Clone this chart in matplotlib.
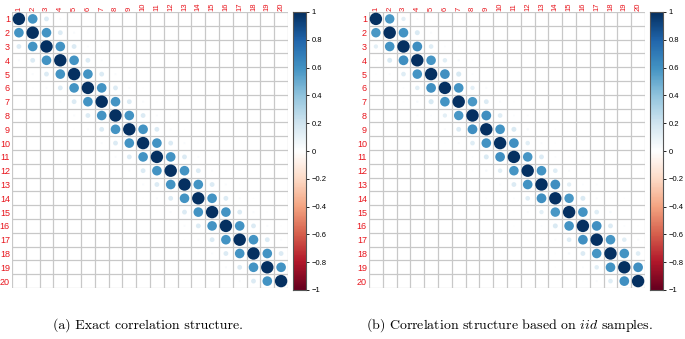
import numpy as np
import matplotlib
matplotlib.use("Agg")
import matplotlib.pyplot as plt
from matplotlib.colors import LinearSegmentedColormap
from matplotlib.patches import Circle

plt.rcParams["mathtext.fontset"] = "cm"

n_vars = 20
labels = [str(i) for i in range(1, n_vars + 1)]

# exact structure: value on each off-diagonal band (same along the band)
exact_bands = [1.0, 0.6, 0.15, 0.03, 0.008]

# sampled structure: values read along each band (row i, col i+k)
iid_band1 = [0.58, 0.60, 0.62, 0.59, 0.61, 0.60, 0.58, 0.62, 0.60, 0.61,
             0.59, 0.60, 0.62, 0.58, 0.60, 0.61, 0.59, 0.60, 0.61]
iid_band2 = [0.12, 0.16, 0.14, 0.13, 0.17, 0.12, 0.15, 0.14, 0.16, 0.13,
             0.15, 0.14, 0.12, 0.16, 0.14, 0.15, 0.13, 0.14]
iid_band3 = [0.02, 0.03, 0.02, 0.04, 0.02, 0.03, 0.03, 0.02, 0.04, 0.03,
             0.02, 0.03, 0.02, 0.03, 0.04, 0.02, 0.03]
iid_band4 = [0.01, 0.00, 0.01, 0.02, 0.00, 0.01, 0.01, 0.02, 0.00, 0.01,
             0.01, 0.00, 0.02, 0.01, 0.00, 0.01]
iid_band5 = [0.00, 0.01, 0.00, 0.01, 0.01, 0.00, 0.01, 0.00, 0.01, 0.00,
             0.01, 0.01, 0.00, 0.01, 0.00]

cbar_ticks = [-1, -0.8, -0.6, -0.4, -0.2, 0, 0.2, 0.4, 0.6, 0.8, 1]
captions = ["(a) Exact correlation structure.",
            "(b) Correlation structure based on $iid$ samples."]

rdbu = ["#67001F", "#B2182B", "#D6604D", "#F4A582", "#FDDBC7", "#FFFFFF",
        "#D1E5F0", "#92C5DE", "#4393C3", "#2166AC", "#053061"]
cmap = LinearSegmentedColormap.from_list("corr", rdbu)


def band_matrix(bands):
    m = np.zeros((n_vars, n_vars))
    for k, vals in enumerate(bands):
        if np.isscalar(vals):
            vals = [vals] * (n_vars - k)
        for i, v in enumerate(vals):
            m[i, i + k] = v
            m[i + k, i] = v
    return m


exact = band_matrix(exact_bands)
sampled = band_matrix([1.0, iid_band1, iid_band2, iid_band3, iid_band4, iid_band5])

W, H = 685, 339
fig = plt.figure(figsize=(W / 100, H / 100), dpi=100)


def px_axes(x0, y0, x1, y1):
    return fig.add_axes([x0 / W, 1 - y1 / H, (x1 - x0) / W, (y1 - y0) / H])


def corrplot(mat, gx):
    ax = px_axes(gx, 12, gx + 276, 288)
    ax.set_xlim(0.5, n_vars + 0.5)
    ax.set_ylim(n_vars + 0.5, 0.5)
    for p in np.arange(0.5, n_vars + 1):
        ax.axhline(p, color="#c8c8c8", lw=0.9, zorder=1)
        ax.axvline(p, color="#c8c8c8", lw=0.9, zorder=1)
    for i in range(n_vars):
        for j in range(n_vars):
            v = mat[i, j]
            r = 0.45 * np.sqrt(abs(v))
            if r <= 0:
                continue
            ax.add_patch(Circle((j + 1, i + 1), r, color=cmap((v + 1) / 2),
                                lw=0, zorder=2))
    ax.set_xticks(range(1, n_vars + 1))
    ax.set_yticks(range(1, n_vars + 1))
    ax.set_xticklabels(labels, rotation=90, color="#e8141c", fontsize=5.5,
                       family="Liberation Sans")
    ax.set_yticklabels(labels, color="#e8141c", fontsize=6.5,
                       family="Liberation Sans")
    ax.xaxis.tick_top()
    ax.tick_params(axis="x", length=0, pad=1)
    ax.tick_params(axis="y", length=0, pad=1.5)
    for s in ax.spines.values():
        s.set_visible(False)

    cax = px_axes(gx + 281, 12, gx + 294, 290)
    grad = np.linspace(1, -1, 200).reshape(-1, 1)
    cax.imshow(grad, cmap=cmap, vmin=-1, vmax=1, aspect="auto",
               extent=[0, 1, -1, 1])
    cax.set_xticks([])
    cax.yaxis.tick_right()
    cax.set_yticks(cbar_ticks)
    cax.set_yticklabels([("\u2212" if t < 0 else "") + f"{abs(t):g}" for t in cbar_ticks],
                        fontsize=5.5, family="Liberation Sans")
    cax.tick_params(axis="y", length=2, width=0.6, pad=2)
    for s in cax.spines.values():
        s.set_color("#555555")
        s.set_linewidth(0.8)


corrplot(exact, 12)
corrplot(sampled, 369)

fig.text(148 / W, 1 - 325 / H, captions[0], ha="center", va="center",
         family="cmr10", fontsize=10)
fig.text(510 / W, 1 - 325 / H, captions[1], ha="center", va="center",
         family="cmr10", fontsize=10)

fig.savefig("out.png", dpi=100)
